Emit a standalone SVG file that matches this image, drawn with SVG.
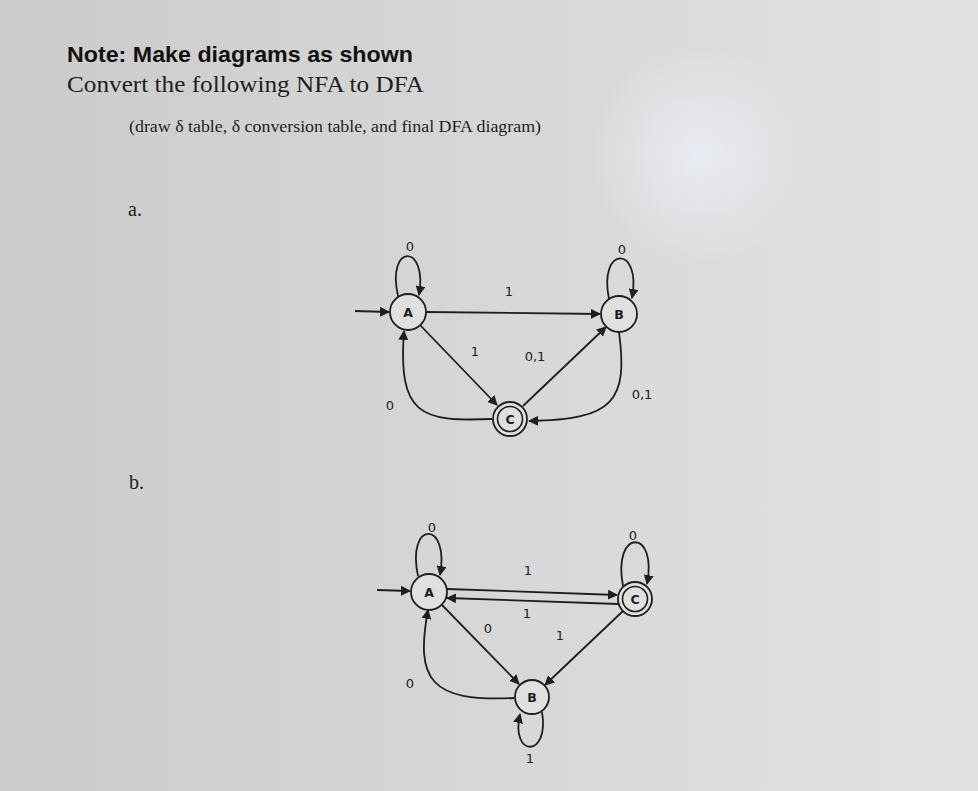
<svg xmlns="http://www.w3.org/2000/svg" width="978" height="791" viewBox="0 0 978 791">
<defs>
<linearGradient id="bg" x1="0" y1="0" x2="1" y2="0">
<stop offset="0" stop-color="#cbcbcb"/>
<stop offset="0.5" stop-color="#d7d7d7"/>
<stop offset="1" stop-color="#e2e2e2"/>
</linearGradient>
<radialGradient id="glow" cx="700" cy="155" r="110" gradientUnits="userSpaceOnUse">
<stop offset="0" stop-color="#eef2fb" stop-opacity="0.7"/>
<stop offset="1" stop-color="#eef2fb" stop-opacity="0"/>
</radialGradient>
<marker id="ah" viewBox="0 0 10 10" refX="9" refY="5" markerWidth="10" markerHeight="10" markerUnits="userSpaceOnUse" orient="auto">
<path d="M0,0 L10,5 L0,10 Z" fill="#1e1e1e"/>
</marker>
<style>
.e{fill:none;stroke:#1e1e1e;stroke-width:1.8;marker-end:url(#ah)}
.s{fill:#e0e0e0;stroke:#1e1e1e;stroke-width:1.8}
.sl{font-family:"DejaVu Sans",sans-serif;font-weight:bold;font-size:12.5px;fill:#1e1e1e;text-anchor:middle}
.lb{font-family:"DejaVu Sans",sans-serif;font-size:13px;fill:#222;text-anchor:middle}
.ser{font-family:"Liberation Serif",serif;fill:#1e1e1e}
</style>
</defs>
<rect width="978" height="791" fill="url(#bg)"/>
<rect width="978" height="791" fill="url(#glow)"/>
<text x="67" y="62" font-family="Liberation Sans" font-weight="bold" font-size="22" fill="#111" textLength="346" lengthAdjust="spacingAndGlyphs">Note: Make diagrams as shown</text>
<text x="67" y="92" class="ser" font-size="23" textLength="357" lengthAdjust="spacingAndGlyphs">Convert the following NFA to DFA</text>
<text x="129" y="132" class="ser" font-size="16" textLength="412" lengthAdjust="spacingAndGlyphs">(draw δ table, δ conversion table, and final DFA diagram)</text>
<text x="128" y="216" class="ser" font-size="20">a.</text>
<text x="129" y="489" class="ser" font-size="20">b.</text>
<g id="connectors">
<path class="e" d="M355,311 L389,312"/>
<path class="e" d="M426,312 L600,314"/>
<path class="e" d="M420,325 L497,405"/>
<path class="e" d="M523,406 L606,327"/>
<path class="e" d="M492,419 C 420,422 398,415 404,331"/>
<path class="e" d="M619,332 C 628,400 615,420 529,421"/>
<path class="e" d="M398,296 C 386,243 428,243 419,295"/>
<path class="e" d="M609,299 C 598,245 642,245 632,298"/>
<path class="e" d="M377,590 L410,591"/>
<path class="e" d="M447,589 L617,595"/>
<path class="e" d="M618,604 L447,598"/>
<path class="e" d="M442,605 L519,684"/>
<path class="e" d="M623,611 L545,685"/>
<path class="e" d="M514,698 C 430,702 415,680 428,610"/>
<path class="e" d="M542,712 C 550,758 510,758 520,714"/>
<path class="e" d="M418,576 C 406,520 450,520 440,575"/>
<path class="e" d="M623,586 C 612,528 658,528 647,584"/>
</g>
<g id="labels">
<text class="lb" x="410" y="251">0</text>
<text class="lb" x="509" y="296">1</text>
<text class="lb" x="475" y="356">1</text>
<text class="lb" x="535" y="361">0,1</text>
<text class="lb" x="390" y="410">0</text>
<text class="lb" x="642" y="399">0,1</text>
<text class="lb" x="622" y="254">0</text>
<text class="lb" x="432" y="532">0</text>
<text class="lb" x="528" y="575">1</text>
<text class="lb" x="527" y="618">1</text>
<text class="lb" x="488" y="633">0</text>
<text class="lb" x="560" y="640">1</text>
<text class="lb" x="410" y="688">0</text>
<text class="lb" x="530" y="763">1</text>
<text class="lb" x="633" y="540">0</text>
</g>
<g id="a-A"><circle class="s" cx="408" cy="312" r="18"/><text class="sl" x="408" y="316.5">A</text></g>
<g id="a-B"><circle class="s" cx="619" cy="314" r="18"/><text class="sl" x="619" y="318.5">B</text></g>
<g id="a-C"><circle class="s" cx="510" cy="419" r="17"/><circle fill="none" stroke="#1e1e1e" stroke-width="1.6" cx="510" cy="419" r="12.5"/><text class="sl" x="510" y="423.5">C</text></g>
<g id="b-A"><circle class="s" cx="429" cy="592" r="18"/><text class="sl" x="429" y="596.5">A</text></g>
<g id="b-B"><circle class="s" cx="532" cy="697" r="17"/><text class="sl" x="532" y="701.5">B</text></g>
<g id="b-C"><circle class="s" cx="635" cy="599" r="17"/><circle fill="none" stroke="#1e1e1e" stroke-width="1.6" cx="635" cy="599" r="12.5"/><text class="sl" x="635" y="603.5">C</text></g>
</svg>
